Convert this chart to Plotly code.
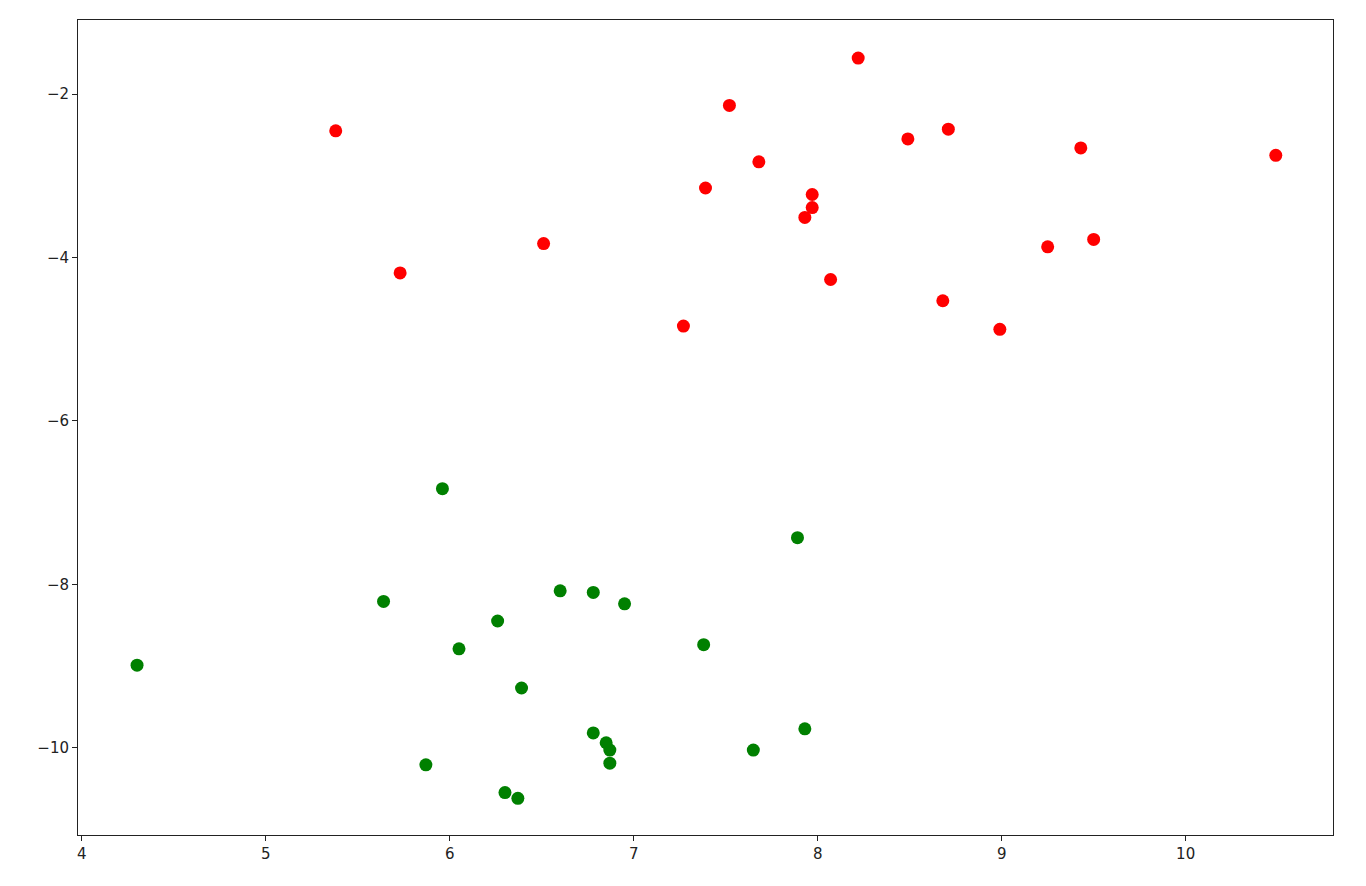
import plotly.graph_objects as go

red_x = [5.38, 5.73, 6.51, 7.27, 7.39, 7.52, 7.68, 7.93, 7.97, 7.97, 8.07, 8.22, 8.49, 8.68, 8.71, 8.99, 9.25, 9.43, 9.50, 10.49]
red_y = [-2.45, -4.19, -3.83, -4.84, -3.15, -2.14, -2.83, -3.51, -3.39, -3.23, -4.27, -1.56, -2.55, -4.53, -2.43, -4.88, -3.87, -2.66, -3.78, -2.75]

green_x = [4.30, 5.64, 5.87, 5.96, 6.05, 6.26, 6.30, 6.37, 6.39, 6.60, 6.78, 6.78, 6.85, 6.87, 6.87, 6.95, 7.38, 7.65, 7.89, 7.93]
green_y = [-8.99, -8.21, -10.21, -6.83, -8.79, -8.45, -10.55, -10.62, -9.27, -8.08, -8.10, -9.82, -9.94, -10.03, -10.19, -8.24, -8.74, -10.03, -7.43, -9.77]

x_ticks = [4, 5, 6, 7, 8, 9, 10]
y_ticks = [-10, -8, -6, -4, -2]

fig = go.Figure()
fig.add_trace(go.Scatter(x=red_x, y=red_y, mode="markers",
                         marker=dict(color="#ff0000", size=13, line=dict(width=0)),
                         showlegend=False))
fig.add_trace(go.Scatter(x=green_x, y=green_y, mode="markers",
                         marker=dict(color="#008000", size=13, line=dict(width=0)),
                         showlegend=False))

axis_common = dict(showgrid=False, zeroline=False, showline=True, linecolor="#222",
                   linewidth=1, mirror=True, ticks="outside", ticklen=5, tickwidth=1,
                   tickcolor="#222", tickfont=dict(family="DejaVu Sans", size=15, color="#222"))

fig.update_xaxes(range=[3.979, 10.801], tickvals=x_ticks, **axis_common)
fig.update_yaxes(range=[-11.069, -1.094], tickvals=y_ticks, **axis_common)

fig.update_layout(width=1358, height=878, margin=dict(l=70, r=33, t=12, b=51),
                  paper_bgcolor="white", plot_bgcolor="white")

fig.write_html("out.html")
